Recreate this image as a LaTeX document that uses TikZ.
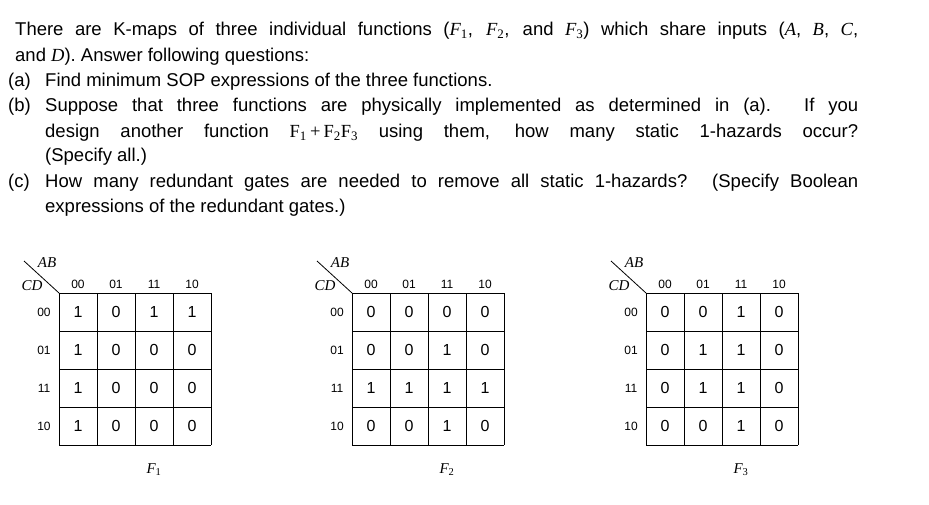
\documentclass[tikz,border=0pt]{standalone}
\usepackage{fontspec}
\setmainfont{Liberation Sans}
\newfontfamily\serifm{Liberation Serif}
\newcommand{\mvar}[1]{{\serifm\itshape #1}}
\newcommand{\fsub}[1]{{\serifm\itshape F\textsubscript{\upshape #1}}}
\begin{document}
\begin{tikzpicture}[x=1pt,y=-1pt,
  txt/.style={anchor=west,inner sep=0pt,font=\fontsize{18.5}{22}\selectfont},
  cell/.style={font=\fontsize{16}{18}\selectfont,inner sep=0pt},
  lab/.style={font=\fontsize{12}{14}\selectfont,inner sep=0pt},
  var/.style={font=\fontsize{15}{17}\selectfont,inner sep=0pt}]
\useasboundingbox (0,0) rectangle (929,504);
\node[txt] (l1) at (15,31) {\makebox[843pt][s]{There are K-maps of three individual functions (\fsub{1}, \fsub{2}, and \fsub{3}) which share inputs (\mvar{A}, \mvar{B}, \mvar{C},}};
\node[txt] (l2) at (15,57) {and \mvar{D}). Answer following questions:};
\node[txt] (la) at (8,82) {(a)};
\node[txt] (l3) at (45,82) {Find minimum SOP expressions of the three functions.};
\node[txt] (lb) at (8,107) {(b)};
\node[txt] (l4) at (45,107) {\makebox[813pt][s]{Suppose that three functions are physically implemented as determined in (a). If you}};
\node[txt] (l5) at (45,133) {\makebox[813pt][s]{design another function {\serifm F\textsubscript{1}\,+\,F\textsubscript{2}F\textsubscript{3}} using them, how many static 1-hazards occur?}};
\node[txt] (l6) at (45,157) {(Specify all.)};
\node[txt] (lc) at (8,183) {(c)};
\node[txt] (l7) at (45,183) {\makebox[813pt][s]{How many redundant gates are needed to remove all static 1-hazards? (Specify Boolean}};
\node[txt] (l8) at (45,208) {expressions of the redundant gates.)};
\foreach \ox/\name/\vals in {59/1/{1,0,1,1,1,0,0,0,1,0,0,0,1,0,0,0},352/2/{0,0,0,0,0,0,1,0,1,1,1,1,0,0,1,0},646/3/{0,0,1,0,0,1,1,0,0,1,1,0,0,0,1,0}}{
  \begin{scope}[shift={(\ox,293)}]
    \foreach \k in {0,...,4}{
      \draw[line width=0.9pt] (38*\k,0) -- (38*\k,152);
      \draw[line width=0.9pt] (0,38*\k) -- (152,38*\k);
    }
    \draw[line width=0.8pt] (0,0) -- (-35,-32);
    \node[var] (ab\name) at (-12,-30) {\mvar{AB}};
    \node[var] (cd\name) at (-27,-7) {\mvar{CD}};
    \foreach \c/\t in {0/00,1/01,2/11,3/10}{
      \node[lab] (col\name\c) at (19+38*\c,-9) {\t};
      \node[lab] (row\name\c) at (-15,19+38*\c) {\t};
    }
    \foreach \v [count=\i from 0] in \vals {
      \pgfmathtruncatemacro{\r}{int(\i/4)}
      \pgfmathtruncatemacro{\cc}{mod(\i,4)}
      \node[cell] (v\name-\i) at (19+38*\cc,19+38*\r) {\v};
    }
    \node[var] (f\name) at (95,177) {\fsub{\name}};
  \end{scope}
}
\end{tikzpicture}
\end{document}
